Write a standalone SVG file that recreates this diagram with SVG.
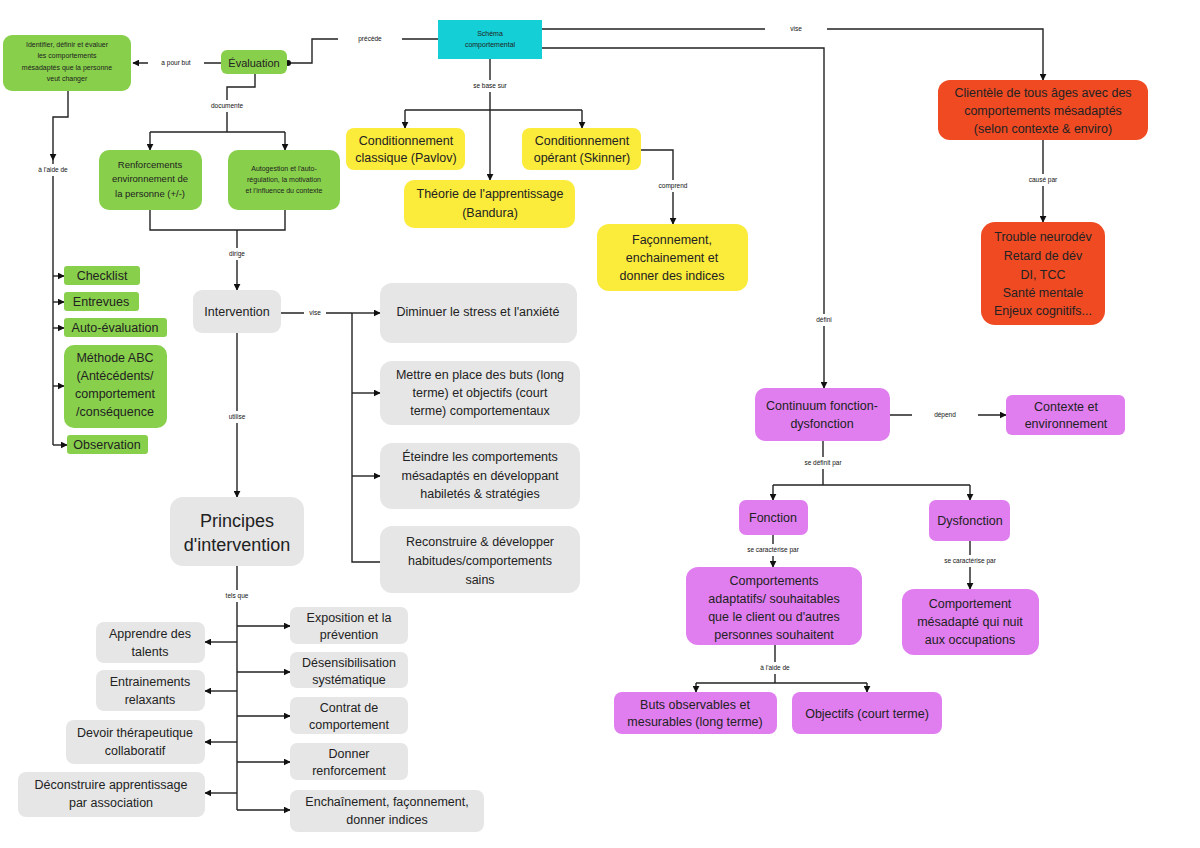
<svg xmlns="http://www.w3.org/2000/svg" width="1200" height="848" viewBox="0 0 1200 848">
<style>
text{font-family:"Liberation Sans",Arial,sans-serif;fill:#222;text-anchor:middle}
.n{font-size:12.5px}
.s{font-size:7px}
.l{font-size:6.5px;fill:#111}
.g{fill:#88d04b}
.y{fill:#fbeb3b}
.r{fill:#f04a23}
.p{fill:#e07ef0}
.w{fill:#e6e6e6}
.c{fill:#14cfd6}
.e{fill:none;stroke:#222;stroke-width:1.4}
.lb{fill:#fff}
</style>
<defs>
<marker id="a" viewBox="0 0 10 10" refX="9" refY="5" markerWidth="7" markerHeight="7" markerUnits="userSpaceOnUse" orient="auto"><path d="M0,0L10,5L0,10z" fill="#111"/></marker>
<marker id="d" viewBox="0 0 10 10" refX="5" refY="5" markerWidth="6" markerHeight="6" markerUnits="userSpaceOnUse"><circle cx="5" cy="5" r="5" fill="#111"/></marker>
</defs>
<rect width="1200" height="848" fill="#fff"/>
<g id="connectors">
<path class="e" d="M438,39H312V63H288" marker-end="url(#d)"/>
<rect class="lb" x="338" y="33" width="64" height="12"/>
<text class="l" x="370" y="41">précède</text>
<path class="e" d="M221,63H133" marker-end="url(#a)"/>
<rect class="lb" x="148" y="57" width="56" height="12"/>
<text class="l" x="176" y="65">a pour but</text>
<path class="e" d="M255,74V87H227V132"/>
<rect class="lb" x="197" y="100" width="60" height="12"/>
<text class="l" x="227" y="108">documente</text>
<path class="e" d="M150,132H285"/>
<path class="e" d="M150,132V150" marker-end="url(#a)"/>
<path class="e" d="M285,132V150" marker-end="url(#a)"/>
<path class="e" d="M68,91V117H53V160" marker-end="url(#a)"/>
<path class="e" d="M53,160V445"/>
<rect class="lb" x="25" y="164" width="56" height="12"/>
<text class="l" x="53" y="172">à l'aide de</text>
<path class="e" d="M53,276H64" marker-end="url(#a)"/>
<path class="e" d="M53,302H64" marker-end="url(#a)"/>
<path class="e" d="M53,328H64" marker-end="url(#a)"/>
<path class="e" d="M53,386H64" marker-end="url(#a)"/>
<path class="e" d="M53,445H67" marker-end="url(#a)"/>
<path class="e" d="M150,210V230H285V210"/>
<path class="e" d="M237,230V290" marker-end="url(#a)"/>
<rect class="lb" x="220" y="248" width="34" height="12"/>
<text class="l" x="237" y="256">dirige</text>
<path class="e" d="M490,59V110"/>
<rect class="lb" x="460" y="80" width="60" height="12"/>
<text class="l" x="490" y="88">se base sur</text>
<path class="e" d="M405,110H582"/>
<path class="e" d="M405,110V128" marker-end="url(#a)"/>
<path class="e" d="M582,110V128" marker-end="url(#a)"/>
<path class="e" d="M490,110V180" marker-end="url(#a)"/>
<path class="e" d="M641,150H673V224" marker-end="url(#a)"/>
<rect class="lb" x="648" y="180" width="50" height="12"/>
<text class="l" x="673" y="188">comprend</text>
<path class="e" d="M542,29H1043V80" marker-end="url(#a)"/>
<rect class="lb" x="765" y="23" width="62" height="12"/>
<text class="l" x="796" y="31">vise</text>
<path class="e" d="M542,48H824V388" marker-end="url(#a)"/>
<rect class="lb" x="805" y="314" width="38" height="12"/>
<text class="l" x="824" y="322">défini</text>
<path class="e" d="M1043,140V222" marker-end="url(#a)"/>
<rect class="lb" x="1018" y="174" width="50" height="12"/>
<text class="l" x="1043" y="182">causé par</text>
<path class="e" d="M890,415H1006" marker-end="url(#a)"/>
<rect class="lb" x="912" y="409" width="66" height="12"/>
<text class="l" x="945" y="417">dépend</text>
<path class="e" d="M823,441V485"/>
<rect class="lb" x="790" y="457" width="66" height="12"/>
<text class="l" x="823" y="465">se définit par</text>
<path class="e" d="M773,485H970"/>
<path class="e" d="M773,485V500" marker-end="url(#a)"/>
<path class="e" d="M970,485V500" marker-end="url(#a)"/>
<path class="e" d="M773,535V567" marker-end="url(#a)"/>
<rect class="lb" x="732" y="544" width="82" height="12"/>
<text class="l" x="773" y="552">se caractérise par</text>
<path class="e" d="M970,541V589" marker-end="url(#a)"/>
<rect class="lb" x="929" y="555" width="82" height="12"/>
<text class="l" x="970" y="563">se caractérise par</text>
<path class="e" d="M775,645V683"/>
<rect class="lb" x="749" y="662" width="52" height="12"/>
<text class="l" x="775" y="670">à l'aide de</text>
<path class="e" d="M696,683H867"/>
<path class="e" d="M696,683V692" marker-end="url(#a)"/>
<path class="e" d="M867,683V692" marker-end="url(#a)"/>
<path class="e" d="M281,313H352"/>
<rect class="lb" x="304" y="308" width="22" height="10"/>
<text class="l" x="315" y="315">vise</text>
<path class="e" d="M352,313V562H380"/>
<path class="e" d="M352,313H380" marker-end="url(#a)"/>
<path class="e" d="M352,393H380" marker-end="url(#a)"/>
<path class="e" d="M352,476H380" marker-end="url(#a)"/>
<path class="e" d="M237,333V497" marker-end="url(#a)"/>
<rect class="lb" x="220" y="411" width="34" height="12"/>
<text class="l" x="237" y="419">utilise</text>
<path class="e" d="M237,566V810"/>
<rect class="lb" x="218" y="590" width="38" height="12"/>
<text class="l" x="237" y="598">tels que</text>
<path class="e" d="M237,626H290" marker-end="url(#a)"/>
<path class="e" d="M237,672H290" marker-end="url(#a)"/>
<path class="e" d="M237,716H290" marker-end="url(#a)"/>
<path class="e" d="M237,762H290" marker-end="url(#a)"/>
<path class="e" d="M237,810H290" marker-end="url(#a)"/>
<path class="e" d="M237,642H205" marker-end="url(#a)"/>
<path class="e" d="M237,691H205" marker-end="url(#a)"/>
<path class="e" d="M237,742H205" marker-end="url(#a)"/>
<path class="e" d="M237,793H205" marker-end="url(#a)"/>
</g>
<g id="schema"><rect class="c" x="438" y="20" width="104" height="39"/><text class="s" x="490" y="36">Schéma</text><text class="s" x="490" y="47">comportemental</text></g>
<g id="evaluation"><rect class="g" x="221" y="50" width="66" height="24" rx="6"/><text class="n" x="254" y="67" style="font-size:11px">Évaluation</text></g>
<g id="identifier"><rect class="g" x="3" y="35" width="128" height="56" rx="9"/><text class="s" x="67" y="47">Identifier, définir et évaluer</text><text class="s" x="67" y="58">les comportements</text><text class="s" x="67" y="70">mésadaptés que la personne</text><text class="s" x="67" y="81">veut changer</text></g>
<g id="renforcements"><rect class="g" x="99" y="150" width="103" height="60" rx="10"/><text x="150" y="168" style="font-size:9.5px">Renforcements</text><text x="150" y="182" style="font-size:9.5px">environnement de</text><text x="150" y="197" style="font-size:9.5px">la personne (+/-)</text></g>
<g id="autogestion"><rect class="g" x="228" y="150" width="112" height="60" rx="10"/><text class="s" x="284" y="171">Autogestion et l'auto-</text><text class="s" x="284" y="182">régulation, la motivation</text><text class="s" x="284" y="193">et l'influence du contexte</text></g>
<g id="checklist"><rect class="g" x="64" y="266" width="76" height="19" rx="3"/><text class="n" x="102" y="280">Checklist</text></g>
<g id="entrevues"><rect class="g" x="64" y="292" width="75" height="19" rx="3"/><text class="n" x="101" y="306">Entrevues</text></g>
<g id="autoeval"><rect class="g" x="64" y="318" width="103" height="19" rx="3"/><text class="n" x="115" y="332">Auto-évaluation</text></g>
<g id="abc"><rect class="g" x="64" y="345" width="103" height="83" rx="10"/><text class="n" x="115" y="362">Méthode ABC</text><text class="n" x="115" y="380">(Antécédents/</text><text class="n" x="115" y="398">comportement</text><text class="n" x="115" y="416">/conséquence</text></g>
<g id="observation"><rect class="g" x="67" y="435" width="81" height="19" rx="3"/><text class="n" x="107" y="449">Observation</text></g>
<g id="classique"><rect class="y" x="346" y="128" width="119" height="42" rx="8"/><text class="n" x="406" y="145">Conditionnement</text><text class="n" x="406" y="162">classique (Pavlov)</text></g>
<g id="operant"><rect class="y" x="522" y="128" width="119" height="42" rx="8"/><text class="n" x="582" y="145">Conditionnement</text><text class="n" x="582" y="162">opérant (Skinner)</text></g>
<g id="theorie"><rect class="y" x="404" y="180" width="171" height="48" rx="10"/><text class="n" x="490" y="198">Théorie de l'apprentissage</text><text class="n" x="490" y="217">(Bandura)</text></g>
<g id="faconnement"><rect class="y" x="597" y="224" width="151" height="67" rx="12"/><text class="n" x="672" y="244">Façonnement,</text><text class="n" x="672" y="262">enchainement et</text><text class="n" x="672" y="280">donner des indices</text></g>
<g id="clientele"><rect class="r" x="938" y="80" width="210" height="60" rx="12"/><text class="n" x="1043" y="97">Clientèle de tous âges avec des</text><text class="n" x="1043" y="115">comportements mésadaptés</text><text class="n" x="1043" y="133">(selon contexte &amp; enviro)</text></g>
<g id="trouble"><rect class="r" x="981" y="222" width="124" height="103" rx="14"/><text class="n" x="1043" y="241">Trouble neurodév</text><text class="n" x="1043" y="260">Retard de dév</text><text class="n" x="1043" y="279">DI, TCC</text><text class="n" x="1043" y="297">Santé mentale</text><text class="n" x="1043" y="315">Enjeux cognitifs...</text></g>
<g id="continuum"><rect class="p" x="755" y="388" width="135" height="53" rx="10"/><text class="n" x="822" y="410">Continuum fonction-</text><text class="n" x="822" y="428">dysfonction</text></g>
<g id="contexte"><rect class="p" x="1006" y="395" width="119" height="40" rx="6"/><text class="n" x="1066" y="411">Contexte et</text><text class="n" x="1066" y="428">environnement</text></g>
<g id="fonction"><rect class="p" x="739" y="500" width="69" height="35" rx="7"/><text class="n" x="773" y="522">Fonction</text></g>
<g id="dysfonction"><rect class="p" x="929" y="500" width="81" height="41" rx="7"/><text class="n" x="970" y="525">Dysfonction</text></g>
<g id="adaptatifs"><rect class="p" x="686" y="567" width="176" height="78" rx="12"/><text class="n" x="774" y="585">Comportements</text><text class="n" x="774" y="603">adaptatifs/ souhaitables</text><text class="n" x="774" y="621">que le client ou d'autres</text><text class="n" x="774" y="639">personnes souhaitent</text></g>
<g id="mesadapte"><rect class="p" x="902" y="589" width="137" height="66" rx="12"/><text class="n" x="970" y="608">Comportement</text><text class="n" x="970" y="626">mésadapté qui nuit</text><text class="n" x="970" y="644">aux occupations</text></g>
<g id="buts"><rect class="p" x="614" y="692" width="163" height="42" rx="8"/><text class="n" x="695" y="709">Buts observables et</text><text class="n" x="695" y="726">mesurables (long terme)</text></g>
<g id="objectifs"><rect class="p" x="792" y="692" width="150" height="42" rx="8"/><text class="n" x="867" y="718">Objectifs (court terme)</text></g>
<g id="intervention"><rect class="w" x="193" y="290" width="88" height="43" rx="9"/><text class="n" x="237" y="316">Intervention</text></g>
<g id="diminuer"><rect class="w" x="380" y="283" width="197" height="60" rx="12"/><text class="n" x="478" y="316">Diminuer le stress et l'anxiété</text></g>
<g id="mettre"><rect class="w" x="380" y="361" width="200" height="64" rx="12"/><text class="n" x="480" y="379">Mettre en place des buts (long</text><text class="n" x="480" y="397">terme) et objectifs (court</text><text class="n" x="480" y="415">terme) comportementaux</text></g>
<g id="eteindre"><rect class="w" x="380" y="443" width="200" height="66" rx="12"/><text class="n" x="480" y="461">Éteindre les comportements</text><text class="n" x="480" y="480">mésadaptés en développant</text><text class="n" x="480" y="498">habiletés &amp; stratégies</text></g>
<g id="reconstruire"><rect class="w" x="380" y="526" width="200" height="67" rx="12"/><text class="n" x="480" y="546">Reconstruire &amp; développer</text><text class="n" x="480" y="565">habitudes/comportements</text><text class="n" x="480" y="584">sains</text></g>
<g id="principes"><rect class="w" x="170" y="497" width="134" height="69" rx="13"/><text x="237" y="527" style="font-size:18px">Principes</text><text x="237" y="551" style="font-size:18px">d'intervention</text></g>
<g id="exposition"><rect class="w" x="290" y="607" width="118" height="37" rx="7"/><text class="n" x="349" y="622">Exposition et la</text><text class="n" x="349" y="639">prévention</text></g>
<g id="desensibilisation"><rect class="w" x="290" y="652" width="118" height="36" rx="7"/><text class="n" x="349" y="667">Désensibilisation</text><text class="n" x="349" y="684">systématique</text></g>
<g id="contrat"><rect class="w" x="290" y="697" width="118" height="37" rx="7"/><text class="n" x="349" y="712">Contrat de</text><text class="n" x="349" y="729">comportement</text></g>
<g id="donner"><rect class="w" x="290" y="743" width="118" height="37" rx="7"/><text class="n" x="349" y="758">Donner</text><text class="n" x="349" y="775">renforcement</text></g>
<g id="enchainement"><rect class="w" x="290" y="790" width="194" height="42" rx="8"/><text class="n" x="387" y="806">Enchaînement, façonnement,</text><text class="n" x="387" y="824">donner indices</text></g>
<g id="apprendre"><rect class="w" x="96" y="622" width="109" height="41" rx="8"/><text class="n" x="150" y="638">Apprendre des</text><text class="n" x="150" y="656">talents</text></g>
<g id="entrainements"><rect class="w" x="96" y="670" width="109" height="41" rx="8"/><text class="n" x="150" y="686">Entrainements</text><text class="n" x="150" y="704">relaxants</text></g>
<g id="devoir"><rect class="w" x="66" y="720" width="139" height="44" rx="8"/><text class="n" x="135" y="737">Devoir thérapeutique</text><text class="n" x="135" y="755">collaboratif</text></g>
<g id="deconstruire"><rect class="w" x="18" y="772" width="187" height="45" rx="8"/><text class="n" x="111" y="789">Déconstruire apprentissage</text><text class="n" x="111" y="807">par association</text></g>
</svg>
